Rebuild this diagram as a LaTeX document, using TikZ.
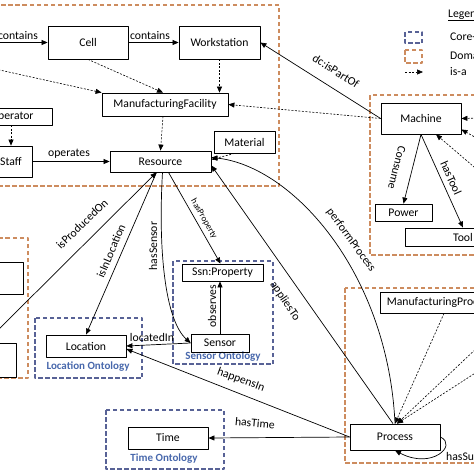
\documentclass[tikz,border=0pt]{standalone}
\usepackage{fontspec}
\setmainfont{Carlito}
\usetikzlibrary{arrows.meta}
\definecolor{domorange}{RGB}{205,140,95}
\definecolor{coreblue}{RGB}{88,98,150}
\definecolor{coretext}{RGB}{72,104,172}
\tikzset{
	cls/.style={draw, line width=0.8pt, minimum height=21pt, inner sep=0pt},
	dombox/.style={draw=domorange, line width=1.3pt, dash pattern=on 4.5pt off 2.5pt},
	corebox/.style={draw=coreblue, line width=1.3pt, dash pattern=on 4.5pt off 2.5pt},
	isa/.style={->, dash pattern=on 2pt off 1.5pt, line width=0.6pt},
	rel/.style={->, line width=0.7pt},
	lbl/.style={inner sep=1pt},
	onto/.style={text=coretext, font=\bfseries\fontsize{11}{12}\selectfont}
}
\begin{document}
\begin{tikzpicture}[x=1pt, y=-1pt, font=\fontsize{11.7}{14}\selectfont, line join=round, >={Triangle[length=6pt,width=5pt]}]
	\useasboundingbox (0,0) rectangle (474,474);
	% ontology frames
	\draw[dombox] (-10,5) rectangle (279,186);
	\draw[dombox] (-10,238) rectangle (28,378);
	\draw[dombox] (370,95) rectangle (490,255);
	\draw[dombox] (345,288) rectangle (490,463);
	\draw[corebox] (35,318) rectangle (142,378);
	\draw[corebox] (173,261) rectangle (273,364);
	\draw[corebox] (106,410) rectangle (224,469);
	\node[onto] at (88,367) {Location Ontology};
	\node[onto] at (223,357) {Sensor Ontology};
	\node[onto] at (164,459) {Time Ontology};
	% classes
	\node[cls, minimum width=80pt, minimum height=33pt] (cell) at (88,42.5) {Cell};
	\node[cls, minimum width=81pt, minimum height=33pt] (work) at (219.5,42.5) {Workstation};
	\node[cls, minimum width=126pt, minimum height=23pt] (mfac) at (165,104.5) {ManufacturingFacility};
	\node[cls, minimum width=80pt, minimum height=17pt] (oper) at (12,116.5) {Operator};
	\node[cls, minimum width=42pt, minimum height=31pt] (staff) at (11,161.5) {Staff};
	\node[cls, minimum width=101pt] (res) at (160.5,161.5) {Resource};
	\node[cls, minimum width=61pt, minimum height=22pt] (mat) at (244.5,142) {Material};
	\node[cls, minimum width=80pt, minimum height=31pt] (mach) at (421,118.5) {Machine};
	\node[cls, minimum width=57pt, minimum height=17pt] (power) at (403.5,212.5) {Power};
	\node[cls, minimum width=116pt, minimum height=18pt] (tool) at (463,237) {Tool};
	\node[cls, minimum width=86pt, minimum height=32pt] (lefta) at (-20,278) {};
	\node[cls, minimum width=82pt, minimum height=34pt] (leftb) at (-25,360) {};
	\node[cls, minimum width=80pt, minimum height=22pt] (loc) at (86,346) {Location};
	\node[cls, minimum width=81pt, minimum height=17pt] (ssn) at (222.5,272.5) {Ssn:Property};
	\node[cls, minimum width=58pt, minimum height=18pt] (sensor) at (220,343) {Sensor};
	\node[cls, minimum width=80pt, minimum height=22pt] (time) at (168,438) {Time};
	\node[cls, minimum width=90pt, minimum height=26pt] (proc) at (395,437) {Process};
	\node[cls, minimum width=120pt, minimum height=21pt] (mproc) at (440,302.5) {ManufacturingProcess};
	% off-picture ends
	\coordinate (outa) at (-5,42.5);
	\coordinate (outb) at (-5,69);
	\coordinate (outc) at (-10,338);
	% containment
	\draw[rel] (outa) -- (cell);
	\node[lbl] at (18,36) {contains};
	\draw[rel] (cell) -- (work);
	\node[lbl] at (150,36) {contains};
	\draw[rel] (mach.west) -- (work.east);
	\node[lbl, rotate=-32] at (336,71) {dc:isPartOf};
	% is-a
	\draw[isa] (cell.south) -- ([xshift=-2pt]mfac.north);
	\draw[isa] (work.south) -- (work.south |- mfac.north);
	\draw[isa] (outb) -- (mfac.north west);
	\draw[isa] (mach.west) -- (mfac.east);
	\draw[isa] (oper.south -| staff.north) -- (staff.north);
	\draw[isa] ([xshift=-2pt]mfac.south) -- (res.north);
	\draw[isa] ([xshift=-10pt]mat.south) -- ([yshift=2pt]res.east);
	\foreach \yy/\nm in {118/ma,140/mb} {
		\coordinate (\nm) at (480,\yy);
		\draw[isa] (\nm) -- ([yshift=-(\yy-118)*0.5pt]mach.east);
	}
	\coordinate (mc) at (480,172);
	\draw[isa] (mc) -- ([xshift=15pt]mach.south);
	\draw[isa] ([xshift=4pt]mproc.south) -- (proc.north);
	\foreach \yy/\nm in {345/pa,370/pb} {
		\coordinate (\nm) at (480,\yy);
		\draw[isa] (\nm) -- ([xshift=2pt]proc.north);
	}
	% relations
	\draw[rel] (staff) -- (res);
	\node[lbl] at (69,154) {operates};
	\draw[rel] (mach.south) -- (power.north);
	\node[lbl, rotate=-104] at (397,168) {Consume};
	\draw[rel] (mach.south) -- (tool.north);
	\node[lbl, rotate=-66] at (451,178) {hasTool};
	\draw[rel] (outc) -- ([xshift=-4pt]res.south);
	\node[lbl, rotate=44] at (82,224) {isProducedOn};
	\draw[rel] ([xshift=-4pt]res.south) -- (loc.north);
	\node[lbl, rotate=67] at (111,251) {isInLocation};
	\draw[rel] ([xshift=2pt]res.south) .. controls (158,250) and (165,320) .. (sensor.west);
	\node[lbl, rotate=90] at (153,246) {hasSensor};
	\draw[rel] ([xshift=8pt]res.south) -- ([xshift=-2pt]ssn.north);
	\node[lbl, rotate=-60, font=\fontsize{9}{10}\selectfont] at (204,219) {hasProperty};
	\draw[rel] (sensor.north) -- (sensor.north |- ssn.south);
	\node[lbl, rotate=90] at (212,306) {observes};
	\draw[rel] (sensor.west) -- (loc.east);
	\node[lbl] at (152,337) {locatedIn};
	\draw[rel] (proc.west) -- ([yshift=-3pt]loc.east);
	\node[lbl, rotate=-20] at (241,380) {happensIn};
	\draw[rel] (proc.west) -- (time.east);
	\node[lbl, rotate=-5] at (255,423) {hasTime};
	\draw[rel] ([xshift=-2pt]proc.north) -- ([yshift=-4pt]res.east);
	\node[lbl, rotate=-56] at (285,301) {appliesTo};
	\draw[rel] (proc.north) .. controls (388,272) and (292,166) .. ([yshift=4pt]res.east);
	\node[lbl, rotate=-54] at (351,240) {performProcess};
	\draw[rel] (proc.east) .. controls (458,445) and (432,470) .. (proc.south);
	\node[lbl, anchor=west] at (445,456) {hasSubProcess};
	% legend
	\node[lbl, anchor=west] at (447,15) {\underline{Legend}};
	\draw[corebox, line width=1.1pt] (405,32) rectangle (422,43);
	\draw[dombox, line width=1.1pt] (405,50) rectangle (422,63);
	\coordinate (isafrom) at (405,72);
	\coordinate (isato) at (423,72);
	\draw[isa] (isafrom) -- (isato);
	\node[lbl, anchor=west] at (449,37) {Core-Ontology};
	\node[lbl, anchor=west] at (449,56) {Domain-Ontology};
	\node[lbl, anchor=west] at (449,72) {is-a};
\end{tikzpicture}
\end{document}
